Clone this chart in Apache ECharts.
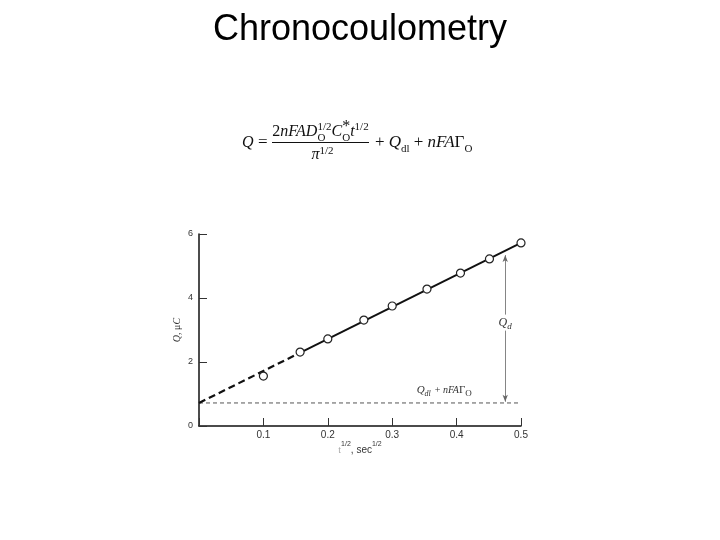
<!DOCTYPE html>
<html><head><meta charset="utf-8">
<script src="https://cdn.jsdelivr.net/npm/echarts@6/dist/echarts.min.js"></script>
<style>html,body{margin:0;padding:0;background:#fff}#c{width:720px;height:540px}</style>
</head><body><div id="c"></div>
<script>
// ---- data ----
const titleText = 'Chronocoulometry';
const tHalf  = [0.1, 0.157, 0.2, 0.256, 0.3, 0.354, 0.406, 0.451, 0.5];
const charge = [1.56, 2.31, 2.72, 3.31, 3.75, 4.28, 4.78, 5.22, 5.72];
const fitDashed = [[0, 0.72], [0.155, 2.27]];
const fitSolid  = [[0.155, 2.27], [0.5, 5.72]];
const qdlLine   = [[0, 0.72], [0.5, 0.72]];
const qdArrow   = [[0.4755, 5.34], [0.4755, 0.76]];
const xTickLabels = ['', '0.1', '0.2', '0.3', '0.4', '0.5'];
const yTickLabels = ['0', '2', '4', '6'];
const qdLabelAt  = [0.4744, 3.2];
const qdlLabelAt = [0.338, 1.03];

const chart = echarts.init(document.getElementById('c'));
const serif = '"Liberation Serif"';
const sans = '"Liberation Sans"';

chart.setOption({
  animation: false,
  backgroundColor: '#fff',
  title: {
    text: titleText, left: 'center', top: 7,
    textStyle: { fontFamily: sans, fontSize: 36, fontWeight: 'normal', color: '#000' }
  },
  grid: { left: 199, right: 199, top: 234, bottom: 114 },
  xAxis: {
    type: 'value', min: 0, max: 0.5, interval: 0.1,
    axisLine: { lineStyle: { color: '#111', width: 1.5 } },
    axisTick: { inside: true, length: 8, lineStyle: { color: '#333', width: 1 } },
    splitLine: { show: false },
    axisLabel: {
      margin: 4, fontFamily: sans, fontSize: 10, color: '#333',
      formatter: v => xTickLabels[Math.round(v * 10)] || ''
    },
    name: '{t|t}{s|1/2}{n|, sec}{s|1/2}', nameLocation: 'middle', nameGap: 13,
    nameTextStyle: {
      rich: {
        t: { fontFamily: serif, fontSize: 10, color: '#aaa', lineHeight: 14, verticalAlign: 'bottom' },
        n: { fontFamily: sans, fontSize: 10, color: '#333', lineHeight: 14, verticalAlign: 'bottom' },
        s: { fontFamily: sans, fontSize: 7, color: '#333', lineHeight: 7, verticalAlign: 'top' }
      }
    }
  },
  yAxis: {
    type: 'value', min: 0, max: 6, interval: 2,
    axisLine: { show: true, lineStyle: { color: '#111', width: 1.5 } },
    axisTick: { show: true, inside: true, length: 8, lineStyle: { color: '#333', width: 1 } },
    splitLine: { show: false },
    axisLabel: {
      margin: 6, fontFamily: sans, fontSize: 9, color: '#333',
      formatter: v => yTickLabels[Math.round(v / 2)] || ''
    },
    name: '{q|Q}{n|, μ}{c|C}', nameLocation: 'middle', nameGap: 17, nameRotate: 90,
    nameTextStyle: {
      rich: {
        q: { fontFamily: serif, fontStyle: 'italic', fontSize: 10, color: '#333' },
        n: { fontFamily: serif, fontSize: 10, color: '#333' },
        c: { fontFamily: serif, fontStyle: 'italic', fontSize: 10, color: '#333' }
      }
    }
  },
  series: [
    {
      type: 'line', data: qdlLine, symbol: 'none', silent: true, z: 1,
      lineStyle: { color: '#555', width: 1, type: [4, 3] },
      markLine: {
        silent: true, symbol: ['arrow', 'arrow'], symbolSize: [4, 7],
        label: { show: false },
        lineStyle: { color: '#666', width: 0.8, type: 'solid' },
        data: [[{ coord: qdArrow[0] }, { coord: qdArrow[1] }]]
      }
    },
    {
      type: 'line', data: fitDashed, symbol: 'none', silent: true, z: 2,
      lineStyle: { color: '#111', width: 2.2, type: [7, 4] }
    },
    {
      type: 'line', data: fitSolid, symbol: 'none', silent: true, z: 2,
      lineStyle: { color: '#111', width: 2 }
    },
    {
      type: 'scatter', data: tHalf.map((t, i) => [t, charge[i]]), z: 3,
      symbol: 'circle', symbolSize: 8,
      itemStyle: { color: '#fff', borderColor: '#222', borderWidth: 1.2, opacity: 1 }
    }
  ]
});

// ---- text layout helper for formulas ----
const mctx = document.createElement('canvas').getContext('2d');
function fontStr(p) { return (p.it ? 'italic ' : '') + p.size + 'px ' + (p.fam || serif); }
function widthOf(p) { mctx.font = fontStr(p); return mctx.measureText(p.t).width; }
function pieceWidth(p) {
  if (p.stack) return Math.max(...p.stack.map(widthOf));
  return widthOf(p) + (p.gap || 0);
}
function totalWidth(pieces) { return pieces.reduce((s, p) => s + pieceWidth(p), 0); }
function layout(pieces, x0, base) {
  const els = []; let x = x0;
  const mk = (p, xx) => ({
    type: 'text', z: 100, x: xx, y: base + (p.dy || 0) - 0.3 * p.size,
    style: { text: p.t, font: fontStr(p), fill: p.color || '#111', verticalAlign: 'middle', align: 'left' }
  });
  pieces.forEach(p => {
    if (p.stack) p.stack.forEach(s => els.push(mk(s, x)));
    else els.push(mk(p, x));
    x += pieceWidth(p);
  });
  return els;
}

const S = 16, s = 11;
const numer = [
  { t: '2', size: S }, { t: 'nFAD', size: S, it: true },
  { stack: [{ t: '1/2', size: s, dy: -7 }, { t: 'O', size: s, dy: 4 }] },
  { t: 'C', size: S, it: true },
  { stack: [{ t: '*', size: 16, dy: -5 }, { t: 'O', size: s, dy: 4 }] },
  { t: 't', size: S, it: true }, { t: '1/2', size: s, dy: -7 }
];
const denom = [{ t: 'π', size: S, it: true }, { t: '1/2', size: s, dy: -6 }];
const rest = [
  { t: '+ ', size: 17 }, { t: 'Q', size: 17, it: true }, { t: 'dl', size: s, dy: 4, gap: 4 },
  { t: '+ ', size: 17 }, { t: 'nFA', size: 17, it: true }, { t: 'Γ', size: 17 }, { t: 'O', size: s, dy: 4 }
];
const barL = 272, barR = 369, barC = (barL + barR) / 2;
let gEls = [];
gEls = gEls.concat(layout([{ t: 'Q', size: 16, it: true }], 242, 148));
gEls = gEls.concat(layout([{ t: '=', size: 17 }], 258, 148));
gEls.push({ type: 'rect', z: 100, shape: { x: barL, y: 142, width: barR - barL, height: 1 }, style: { fill: '#111' } });
gEls = gEls.concat(layout(numer, barC - totalWidth(numer) / 2, 137));
gEls = gEls.concat(layout(denom, barC - totalWidth(denom) / 2 + 2, 160));
gEls = gEls.concat(layout(rest, 375, 148));

// annotations anchored to data coordinates
const pQd = chart.convertToPixel({ gridIndex: 0 }, qdLabelAt);
gEls.push({ type: 'rect', z: 99, shape: { x: pQd[0] - 7, y: pQd[1] - 9, width: 16, height: 16 }, style: { fill: '#fff' } });
gEls = gEls.concat(layout([{ t: 'Q', size: 12, it: true, color: '#333' }, { t: 'd', size: 9, it: true, dy: 3, color: '#333' }], pQd[0] - 6, pQd[1] + 3));
const pQdl = chart.convertToPixel({ gridIndex: 0 }, qdlLabelAt);
const qdl = [
  { t: 'Q', size: 11, it: true, color: '#333' }, { t: 'dl', size: 8, it: true, dy: 3, gap: 4, color: '#333' },
  { t: '+ ', size: 10, color: '#333' }, { t: 'nFA', size: 10, it: true, color: '#333' }, { t: 'Γ', size: 11, color: '#333' },
  { t: 'O', size: 9, dy: 3, color: '#333' }
];
gEls = gEls.concat(layout(qdl, pQdl[0], pQdl[1]));

chart.setOption({ graphic: { elements: gEls } });
</script>
</body></html>
